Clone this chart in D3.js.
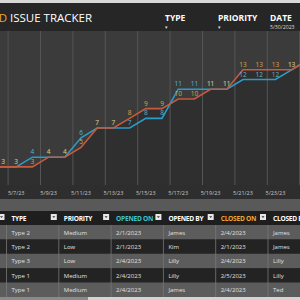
<!DOCTYPE html>
<html><head><meta charset="utf-8">
<script src="https://cdn.jsdelivr.net/npm/d3@7"></script>
<style>body{margin:0;background:#3b3b3b;overflow:hidden}svg{display:block}text{font-family:"Open Sans",sans-serif}</style>
</head><body><svg id="c" width="300" height="300"></svg>
<script>
// ---- data ----
const dates = ["2023-05-06","2023-05-07","2023-05-08","2023-05-09","2023-05-10","2023-05-11","2023-05-12","2023-05-13","2023-05-14","2023-05-15","2023-05-16","2023-05-17","2023-05-18","2023-05-19","2023-05-20","2023-05-21","2023-05-22","2023-05-23","2023-05-24","2023-05-25"];
const opened = [3,3,4,4,4,6,7,7,7,8,8,11,11,11,11,12,12,12,13,14];
const closed = [3,3,3,4,4,5,7,7,8,9,9,10,10,11,11,13,13,13,13,14];
const tickDates = ["2023-05-07","2023-05-09","2023-05-11","2023-05-13","2023-05-15","2023-05-17","2023-05-19","2023-05-21","2023-05-23"];
const gridDates = ["2023-05-06T12:00","2023-05-08T12:00","2023-05-10T12:00","2023-05-12T12:00","2023-05-14T12:00","2023-05-16T12:00","2023-05-18T12:00","2023-05-20T12:00","2023-05-22T12:00","2023-05-24T12:00"];
const columns = ["TYPE","PRIORITY","OPENED ON","OPENED BY","CLOSED ON","CLOSED BY"];
const colTypes = ["Type 2","Type 2","Type 3","Type 1","Type 1"];
const colPriority = ["Medium","Low","Low","Medium","Medium"];
const colOpenedOn = ["2/1/2023","2/1/2023","2/4/2023","2/4/2023","2/4/2023"];
const colOpenedBy = ["James","Kim","Lilly","Lilly","James"];
const colClosedOn = ["2/4/2023","2/1/2023","2/4/2023","2/5/2023","2/4/2023"];
const colClosedBy = ["James","James","Lilly","Lilly","Ted"];
const filters = ["TYPE","PRIORITY"];
const dateValue = "5/30/2023";

const parse = d3.isoParse;
const svg = d3.select("#c");
const fmt = d3.timeFormat("%-m/%-d/%y");

// x & y scales
const x = d3.scaleTime().domain([parse("2023-05-06"), parse("2023-05-25")]).range([0, 307.8]);
const y = d3.scaleLinear().domain([0, 17]).range([196, 31]);
const plotTop = 31, plotBottom = 185;

// backgrounds
svg.append("rect").attr("x",0).attr("y",0).attr("width",300).attr("height",300).attr("fill","#3b3b3b");
svg.append("rect").attr("x",0).attr("y",0).attr("width",300).attr("height",3).attr("fill","#d8d8d8");
svg.append("rect").attr("x",0).attr("y",3).attr("width",300).attr("height",plotTop-3).attr("fill","#262626");
svg.append("rect").attr("x",0).attr("y",plotBottom).attr("width",300).attr("height",14).attr("fill","#2e2e2e");

const clip = svg.append("defs").append("clipPath").attr("id","pc");
clip.append("rect").attr("x",0).attr("y",plotTop).attr("width",300).attr("height",plotBottom-plotTop);
const plot = svg.append("g").attr("clip-path","url(#pc)");

const pts = dates.map((d,i)=>({d:parse(d), o:opened[i], c:closed[i]}));
const visible = pts.filter(p=>x(p.d) <= 300);

// area below closed line
plot.append("path").datum(pts)
  .attr("d", d3.area().x(p=>x(p.d)).y0(plotBottom).y1(p=>y(p.c)))
  .attr("fill","#2f2f2f");

// gridlines
plot.selectAll("line.g").data(gridDates).join("line")
  .attr("x1",d=>x(parse(d))).attr("x2",d=>x(parse(d)))
  .attr("y1",plotTop).attr("y2",plotBottom).attr("stroke","#555").attr("stroke-width",1);

// lines
plot.append("path").datum(pts).attr("d",d3.line().x(p=>x(p.d)).y(p=>y(p.o)))
  .attr("fill","none").attr("stroke","#2d9bc8").attr("stroke-width",1.6);
plot.append("path").datum(pts).attr("d",d3.line().x(p=>x(p.d)).y(p=>y(p.c)))
  .attr("fill","none").attr("stroke","#c85a3e").attr("stroke-width",1.6);

// labels
plot.selectAll("text.o").data(visible).join("text")
  .attr("x",p=>Math.max(x(p.d),3)).attr("y",p=>y(p.o)-3).attr("text-anchor","middle")
  .attr("font-size",6.5).attr("fill","#58b4d4").text(p=>p.o);
plot.selectAll("text.c").data(visible).join("text")
  .attr("x",p=>Math.max(x(p.d),3)).attr("y",p=>y(p.c)-3).attr("text-anchor","middle")
  .attr("font-size",6.5).attr("fill","#dca43c").text(p=>p.c);

// x axis labels
svg.selectAll("text.xt").data(tickDates).join("text")
  .attr("x",d=>x(parse(d))).attr("y",195).attr("text-anchor","middle")
  .attr("font-size",5.5).attr("fill","#c8c8c8").text(d=>fmt(parse(d)));

// header
svg.append("text").attr("x",7).attr("y",22).attr("text-anchor","end").attr("font-size",11.5)
  .attr("fill","#f0a530").text("D");
svg.append("text").attr("x",10).attr("y",22).attr("font-size",11.5).attr("fill","#ffffff").text("ISSUE TRACKER");
const filterX = d3.scaleOrdinal().domain(["TYPE","PRIORITY","DATE"]).range([165,218,270]);
filters.forEach(f=>{
  svg.append("text").attr("x",filterX(f)).attr("y",21).attr("font-size",8.5).attr("font-weight",700).attr("fill","#fff").text(f);
  svg.append("text").attr("x",filterX(f)).attr("y",29).attr("font-size",5).attr("fill","#ddd").text("▾");
});
svg.append("text").attr("x",filterX("DATE")).attr("y",21).attr("font-size",8.5).attr("font-weight",700).attr("fill","#fff").text("DATE");
svg.append("text").attr("x",filterX("DATE")).attr("y",28.5).attr("font-size",5.2).attr("fill","#ddd").text(dateValue);

// table
svg.append("rect").attr("x",0).attr("y",199).attr("width",300).attr("height",12).attr("fill","#595959");
const colLeft = d3.scaleLinear().domain([0,1]).range([6.5,58.8]);
const rowTop = d3.scaleLinear().domain([0,1]).range([225,239.4]);
svg.append("rect").attr("x",0).attr("y",211).attr("width",300).attr("height",14).attr("fill","#1e1e1e");
const headColors = ["#fff","#fff","#3cc3cc","#fff","#f0a530","#fff"];
const rows = colTypes.map((t,i)=>[t,colPriority[i],colOpenedOn[i],colOpenedBy[i],colClosedOn[i],colClosedBy[i]]);
rows.forEach((r,i)=>{
  svg.append("rect").attr("x",0).attr("y",rowTop(i)).attr("width",300).attr("height",rowTop(1)-rowTop(0))
    .attr("fill", i%2===0 ? "#5c5c5c" : "#232323");
  r.forEach((v,j)=>{
    svg.append("text").attr("x",colLeft(j)+5).attr("y",rowTop(i)+9.5).attr("font-size",6).attr("fill","#e0e0e0").text(v);
  });
});
svg.append("rect").attr("x",0).attr("y",rowTop(5)).attr("width",300).attr("height",10).attr("fill","#d4d4d4");
svg.append("rect").attr("x",0).attr("y",rowTop(5)).attr("width",88).attr("height",10).attr("fill","#8a8a8a");
// column separators
d3.range(6).forEach(j=>{
  svg.append("line").attr("x1",colLeft(j)).attr("x2",colLeft(j)).attr("y1",225).attr("y2",rowTop(5))
    .attr("stroke","#777").attr("stroke-width",0.8);
});
// header texts + filter buttons
columns.forEach((c,j)=>{
  svg.append("text").attr("x",colLeft(j)+5).attr("y",221).attr("font-size",6.6).attr("font-weight",700)
    .attr("letter-spacing",-0.25).attr("fill",headColors[j]).text(c);
});
d3.range(-1,5).forEach(j=>{
  const bx = colLeft(j+1)-8;
  svg.append("rect").attr("x",bx).attr("y",214).attr("width",6).attr("height",6).attr("fill","#e8e8e8");
  svg.append("path").attr("d",`M${bx+1.5},${216.3}L${bx+4.5},${216.3}L${bx+3},${218}Z`).attr("fill","#333");
});
</script></body></html>
